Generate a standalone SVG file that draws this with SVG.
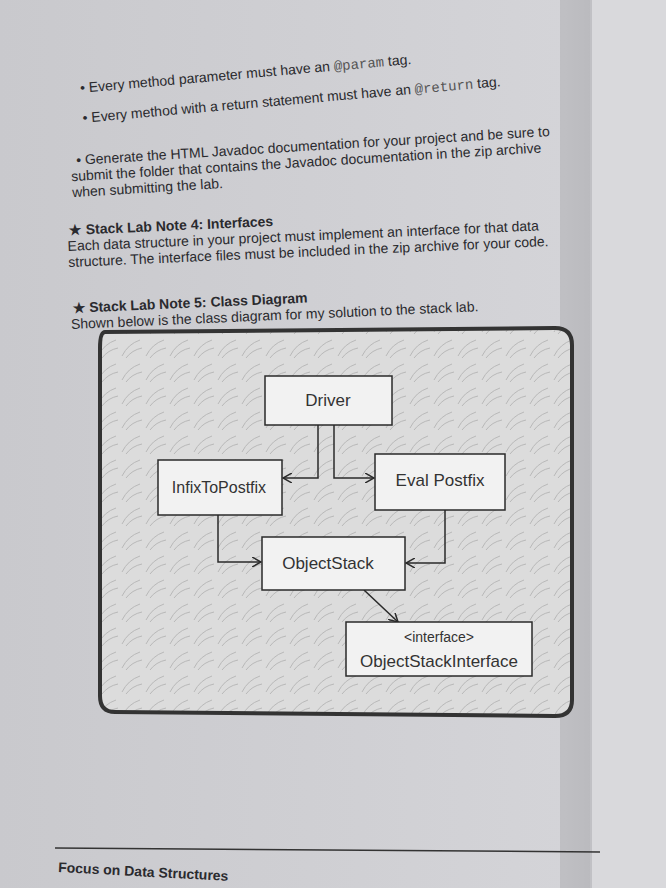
<svg xmlns="http://www.w3.org/2000/svg" width="666" height="888" viewBox="0 0 666 888">
<defs>
<style>
.t{font-family:"Liberation Sans",Arial,sans-serif;fill:#2a2a2e;font-size:14px}
.b{font-weight:bold}
.m{font-family:"Liberation Mono",monospace;fill:#555}
.node rect{fill:#f2f2f2;stroke:#2a2a2a;stroke-width:1.5}
.node text{font-family:"Liberation Sans",Arial,sans-serif;fill:#333;font-size:17px;text-anchor:middle}
.c{fill:none;stroke:#2a2a2a;stroke-width:1.5}
</style>
<marker id="a" markerWidth="10" markerHeight="10" refX="9" refY="5" orient="auto" markerUnits="userSpaceOnUse">
<path d="M0,0 L9,5 L0,10" fill="none" stroke="#2a2a2a" stroke-width="1.5"/>
</marker>
<pattern id="p" width="24" height="24" patternUnits="userSpaceOnUse">
<rect width="24" height="24" fill="#dcdcdc"/>
<path d="M2,20 Q8,8 20,4 M6,22 Q12,14 22,12" fill="none" stroke="#b8b8b8" stroke-width="1"/>
</pattern>
<linearGradient id="g" x1="0" x2="1">
<stop offset="0" stop-color="#c9c9cd"/><stop offset="0.85" stop-color="#d4d4d8"/><stop offset="1" stop-color="#b0b0b4"/>
</linearGradient>
</defs>
<rect width="666" height="888" fill="url(#g)"/>
<rect x="590" y="0" width="76" height="888" fill="#d9d9dc"/>
<rect x="560" y="0" width="32" height="888" fill="#a9a9ad" opacity="0.5"/>
<g transform="rotate(-5 250 80)">
<text class="t" x="80" y="78">• Every method parameter must have an <tspan class="m">@param</tspan> tag.</text>
<text class="t" x="80" y="108">• Every method with a return statement must have an <tspan class="m">@return</tspan> tag.</text>
</g>
<g transform="rotate(-3.5 320 150)">
<text class="t" x="76" y="150">• Generate the HTML Javadoc documentation for your project and be sure to</text>
<text class="t" x="70" y="166">submit the folder that contains the Javadoc documentation in the zip archive</text>
<text class="t" x="70" y="182">when submitting the lab.</text>
</g>
<g transform="rotate(-2.5 320 250)">
<text class="t b" x="70" y="224">★  Stack Lab Note 4: Interfaces</text>
<text class="t" x="68" y="240">Each data structure in your project must implement an interface for that data</text>
<text class="t" x="68" y="256">structure. The interface files must be included in the zip archive for your code.</text>
<text class="t b" x="70" y="302">★  Stack Lab Note 5: Class Diagram</text>
<text class="t" x="68" y="318">Shown below is the class diagram for my solution to the stack lab.</text>
</g>
<path d="M105,332 L555,328 Q572,328 572,345 L572,700 Q572,716 555,716 L115,712 Q100,712 100,696 L100,348 Q100,332 105,332 Z" fill="url(#p)" stroke="#333" stroke-width="4"/>
<g id="connectors">
<path class="c" d="M318,425 V478 H283" marker-end="url(#a)"/>
<path class="c" d="M334,425 V478 H374" marker-end="url(#a)"/>
<path class="c" d="M218,515 V562 H261" marker-end="url(#a)"/>
<path class="c" d="M445,510 V563 H406" marker-end="url(#a)"/>
<path class="c" d="M364,590 L398,622" marker-end="url(#a)"/>
</g>
<g id="driver" class="node"><rect x="265" y="376" width="127" height="49"/><text x="328" y="406">Driver</text></g>
<g id="infix" class="node"><rect x="158" y="460" width="124" height="55"/><text x="219" y="493" style="font-size:16px">InfixToPostfix</text></g>
<g id="eval" class="node"><rect x="375" y="454" width="130" height="56"/><text x="440" y="486">Eval Postfix</text></g>
<g id="objectstack" class="node"><rect x="262" y="537" width="143" height="53"/><text x="328" y="569">ObjectStack</text></g>
<g id="iface" class="node"><rect x="346" y="622" width="186" height="54"/><text x="439" y="642" style="font-size:14px">&lt;interface&gt;</text><text x="439" y="667">ObjectStackInterface</text></g>
<line x1="55" y1="848" x2="600" y2="852" stroke="#333" stroke-width="1.5"/>
<text class="t b" x="58" y="872" transform="rotate(3 58 872)">Focus on Data Structures</text>
</svg>
